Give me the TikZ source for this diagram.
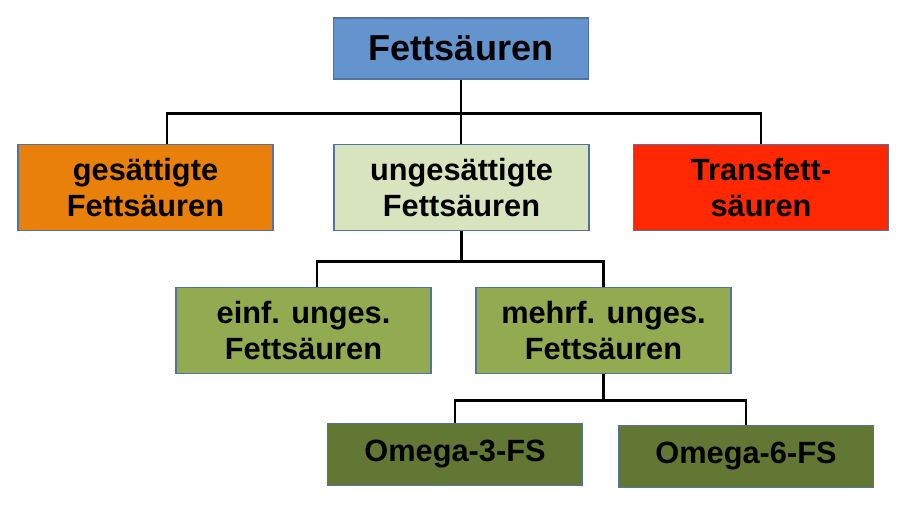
\documentclass[tikz,border=0pt]{standalone}
\usepackage{fontspec}
\setmainfont{Liberation Sans}
\usetikzlibrary{positioning}
\definecolor{fsblue}{RGB}{100,148,206}
\definecolor{fsborder}{RGB}{82,114,160}
\definecolor{satorange}{RGB}{233,128,10}
\definecolor{unsatgreen}{RGB}{215,228,189}
\definecolor{transred}{RGB}{255,40,0}
\definecolor{olivegreen}{RGB}{146,170,80}
\definecolor{darkolive}{RGB}{99,119,52}
\tikzset{box/.style={draw=fsborder,line width=1.1pt,align=center,font=\fontsize{17.5}{21}\selectfont\bfseries,minimum width=5.1cm,minimum height=1.72cm,inner sep=2pt},root/.style={box,fill=fsblue,minimum height=1.22cm,font=\fontsize{20.5}{24}\selectfont\bfseries},sat/.style={box,fill=satorange},unsat/.style={box,fill=unsatgreen},trans/.style={box,fill=transred},single/.style={box,fill=olivegreen},omega/.style={box,fill=darkolive,minimum height=1.24cm},edge/.style={line width=1.7pt}}

\begin{document}
\begin{tikzpicture}[x=0.02cm,y=-0.02cm]
\useasboundingbox (0,0) rectangle (900,512);
\node[root] (fs) at (461,48.5) {Fetts\"auren};
\node[sat] (ges) at (145.5,187.5) {ges\"attigte\\Fetts\"auren};
\node[unsat] (unges) at (461.5,187.5) {unges\"attigte\\Fetts\"auren};
\node[trans] (tfs) at (761,187.5) {Transfett-\\s\"auren};
\node[single] (einf) at (303.5,330.5) {einf. unges.\\Fetts\"auren};
\node[single] (mehrf) at (603.5,330.5) {mehrf. unges.\\Fetts\"auren};
\node[omega] (om3) at (455,454.5) {Omega-3-FS};
\node[omega] (om6) at (746,456.5) {Omega-6-FS};
% first level
\draw[edge] (fs.south)--++(0,34) coordinate (j1);
\draw[edge] (j1)-|([xshift=4.3mm]ges.north);
\draw[edge] (j1)-|(tfs.north);
\draw[edge] (j1)--(j1|-unges.north);
% unsaturated
\draw[edge] (unges.south)--++(0,30) coordinate (j2);
\draw[edge] (j2)-|([xshift=2.7mm]einf.north);
\draw[edge] (j2)-|(mehrf.north);
% omega
\draw[edge] (mehrf.south)--++(0,26) coordinate (j3);
\draw[edge] (j3)-|(om3.north);
\draw[edge] (j3)-|(om6.north);
\end{tikzpicture}
\end{document}
